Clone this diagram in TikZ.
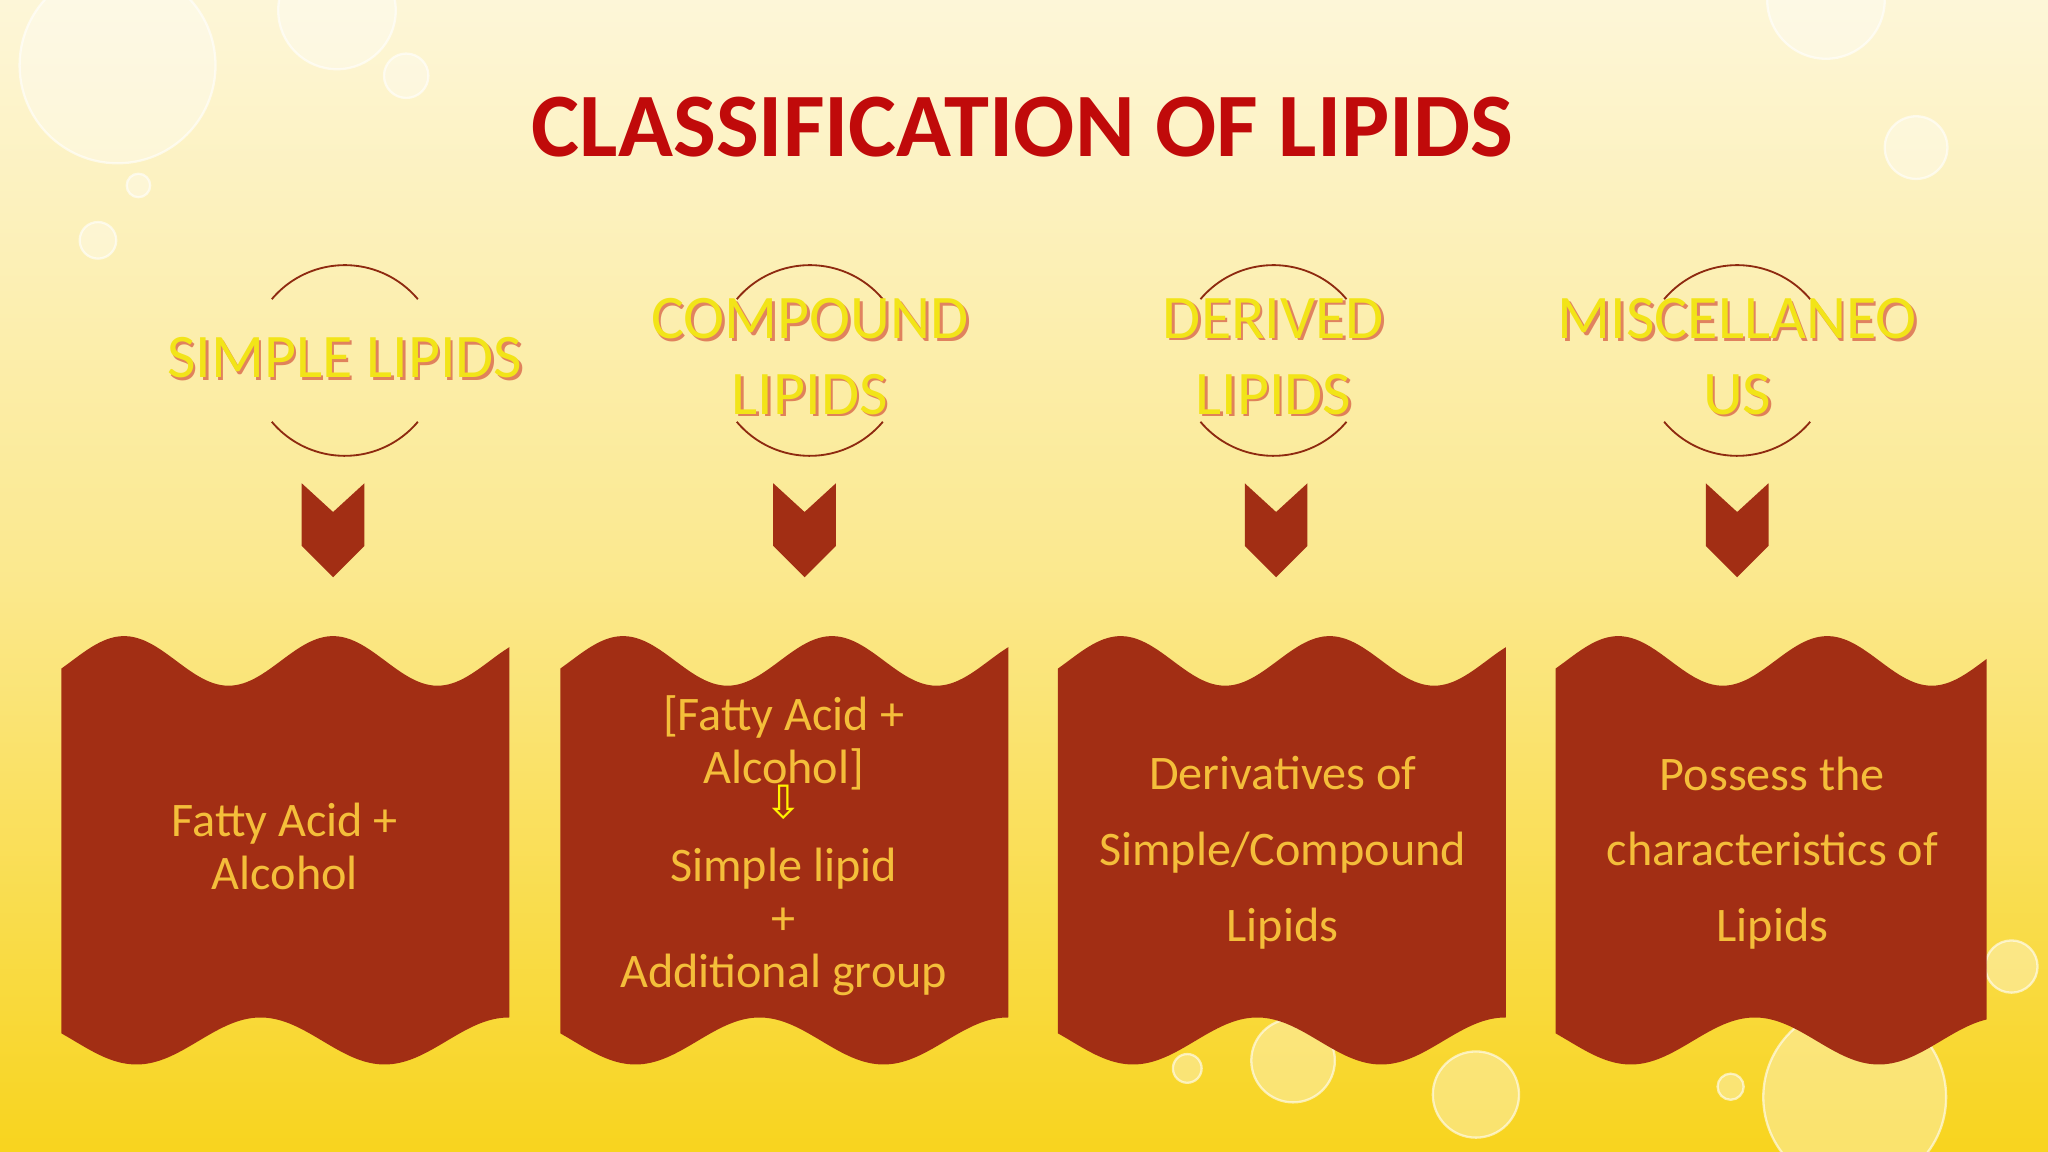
\documentclass[tikz,border=0pt]{standalone}
\usepackage{fontspec}
\setmainfont{Carlito}
\newfontfamily\dejavu{DejaVu Sans}
\definecolor{boxred}{HTML}{A22E14}
\definecolor{txty}{HTML}{F4BE3A}
\definecolor{titred}{HTML}{C00A0A}
\definecolor{arcred}{HTML}{8E2A10}
\definecolor{headyel}{HTML}{F2E418}
\definecolor{bgtop}{HTML}{FDF6D8}
\definecolor{bgbot}{HTML}{F8D41E}
\begin{document}
\begin{tikzpicture}[x=0.02cm,y=-0.02cm,
  boxtxt/.style={text=txty,font=\fontsize{21}{33}\selectfont,align=center},
  chev/.style={fill=boxred,draw=none},
  arcline/.style={draw=arcred,line width=0.8pt},
  headtxt/.style={font=\fontsize{27}{33}\selectfont,align=center},
  bubble/.style={fill=white,fill opacity=0.35,draw=white,draw opacity=0.6,line width=1pt}]
\useasboundingbox (0,0) rectangle (1568,882);
\shade[top color=bgtop,bottom color=bgbot,middle color=bgtop!60!bgbot] (0,0) rectangle (1568,882);
% bubbles
\foreach \x/\y/\r in {90/50/75,258/8/45,311/58/17,106/142/9,75/184/14,1398/0/45,1467/113/24,990/812/32,1130/838/33,909/818/11,1420/840/70,1540/740/20,1325/832/10}
  \draw[bubble] (\x,\y) circle[radius=\r];
% title
\node[text=titred,font=\fontsize{39.5}{46}\selectfont\bfseries] (title) at (783,97) {CLASSIFICATION OF LIPIDS};
% headers
\newcommand{\glowtext}[4]{%
  \node[headtxt,text=red!75!black,text opacity=0.45] (#1s) at ([shift={(2,2)}]#2,#3) {#4};
  \node[headtxt,text=headyel] (#1) at (#2,#3) {#4};}
\foreach \cx in {264,620,975,1330}{
  \draw[arcline] ([shift={(-40:73)}]\cx,276) arc[start angle=-40,end angle=-140,radius=73];
  \draw[arcline] ([shift={(40:73)}]\cx,276) arc[start angle=40,end angle=140,radius=73];
}
\glowtext{h1}{264}{274}{SIMPLE LIPIDS}
\glowtext{h2}{620}{273}{COMPOUND\\LIPIDS}
\glowtext{h3}{975}{273}{DERIVED\\LIPIDS}
\glowtext{h4}{1330}{273}{MISCELLANEO\\US}
% chevrons
\foreach \cx in {255,616,977,1330}
  \fill[chev] (\cx-24,370) -- (\cx,392) -- (\cx+24,370) -- (\cx+24,418) -- (\cx,442) -- (\cx-24,418) -- cycle;
% wave boxes
\foreach \bx/\bw in {47/343,429/343,810/343,1191/330}{
  \fill[boxred] plot[domain=0:\bw,samples=60,smooth] ({\bx+\x},{506-19*cos(2.25*(\x-48))})
    -- plot[domain=\bw:0,samples=60,smooth] ({\bx+\x},{797+18*sin(1.895*(\x-10))}) -- cycle;
}
% box texts
\node[boxtxt,font=\fontsize{21}{23}\selectfont] (t1) at (218,648) {Fatty Acid +\\Alcohol};
\node[boxtxt,font=\fontsize{21}{23}\selectfont] (t2a) at (600,569) {[Fatty Acid +\\Alcohol]};
\node[text=yellow,font=\dejavu\fontsize{20}{22}\selectfont] (arr) at (600,614) {⇩};
\node[boxtxt,font=\fontsize{21}{23}\selectfont] (t2b) at (600,706) {Simple lipid\\+\\Additional group};
\node[boxtxt] (t3) at (982,653) {Derivatives of\\Simple/Compound\\Lipids};
\node[boxtxt] (t4) at (1357,653) {Possess the\\characteristics of\\Lipids};
\end{tikzpicture}
\end{document}
